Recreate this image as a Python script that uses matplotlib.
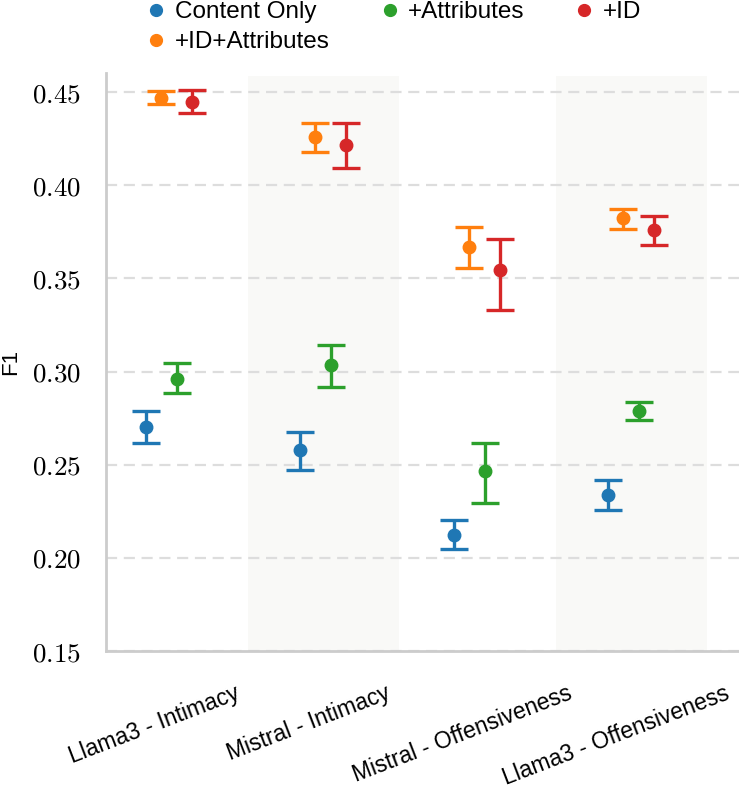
import matplotlib
matplotlib.use("Agg")
import matplotlib.pyplot as plt
import matplotlib.transforms as mtransforms
from matplotlib.lines import Line2D
import numpy as np

# categories and series
categories = ["Llama3 - Intimacy", "Mistral - Intimacy",
              "Mistral - Offensiveness", "Llama3 - Offensiveness"]
series = ["Content Only", "+ID+Attributes", "+Attributes", "+ID"]
colors = ["#1f77b4", "#ff7f0e", "#2ca02c", "#d62728"]

# mean F1 per series (same order as categories)
content_only = [0.2703, 0.2581, 0.2124, 0.2335]
id_attributes = [0.4471, 0.4257, 0.3668, 0.3826]
attributes = [0.2962, 0.3033, 0.2468, 0.2790]
id_only = [0.4446, 0.4216, 0.3543, 0.3760]

# lower / upper ends of the error bars
content_only_lo = [0.2619, 0.2474, 0.2047, 0.2258]
content_only_hi = [0.2790, 0.2674, 0.2204, 0.2419]
id_attributes_lo = [0.4436, 0.4178, 0.3557, 0.3767]
id_attributes_hi = [0.4507, 0.4337, 0.3774, 0.3871]
attributes_lo = [0.2883, 0.2919, 0.2294, 0.2742]
attributes_hi = [0.3048, 0.3144, 0.2617, 0.2835]
id_only_lo = [0.4387, 0.4093, 0.3333, 0.3677]
id_only_hi = [0.4512, 0.4337, 0.3713, 0.3835]

means = [content_only, id_attributes, attributes, id_only]
lows = [content_only_lo, id_attributes_lo, attributes_lo, id_only_lo]
highs = [content_only_hi, id_attributes_hi, attributes_hi, id_only_hi]
yticks = [0.15, 0.20, 0.25, 0.30, 0.35, 0.40, 0.45]

plt.rcParams['mathtext.fontset'] = 'cm'
plt.rcParams['font.family'] = ['Liberation Sans', 'DejaVu Sans']

fig = plt.figure(figsize=(7.39, 7.92), dpi=100)
ax = fig.add_axes([106 / 739, 141 / 792, 633 / 739, 578 / 792])

x = np.arange(len(categories))
offsets = [-0.15, -0.05, 0.05, 0.15]

# light bands behind every second category
for i in x:
    if i % 2 == 1:
        ax.axvspan(i - 0.49, i + 0.49, ymax=0.995, color="#f9f9f7", zorder=0, lw=0)

for name, col, off, m, lo, hi in zip(series, colors, offsets, means, lows, highs):
    m = np.array(m)
    err = [m - np.array(lo), np.array(hi) - m]
    ax.errorbar(x + off, m, yerr=err, fmt="o", color=col, ecolor=col,
                markersize=9, elinewidth=2.4, capsize=10, capthick=2.4,
                label=name, zorder=3)

ax.set_xlim(-0.41, 3.70)
ax.set_ylim(0.15, 0.4603)
ax.set_yticks(yticks)
ax.set_yticklabels([f"${v:.2f}$" for v in yticks], fontsize=19.5)
ax.set_xticks(x)
ax.tick_params(axis="x", length=0, pad=22)
ax.tick_params(axis="y", length=0, pad=18)
ax.set_xticklabels(categories, rotation=21, ha="center", fontsize=16.5)
# labels sit a little left of their ticks in the original
shift = mtransforms.ScaledTranslation(-15 / 100, 0, fig.dpi_scale_trans)
for lab in ax.get_xticklabels():
    lab.set_transform(lab.get_transform() + shift)
ax.set_ylabel("F1", fontsize=16, labelpad=8)

ax.yaxis.grid(True, linestyle=(0, (5, 3)), color="#dddddd", linewidth=1.6, zorder=1)
ax.set_axisbelow(True)
for side in ["top", "right"]:
    ax.spines[side].set_visible(False)
for side in ["left", "bottom"]:
    ax.spines[side].set_color("#cccccc")
    ax.spines[side].set_linewidth(2)

proxy = [Line2D([], [], marker="o", ls="", color=c, markersize=8.5) for c in colors]
fig.legend(proxy, series, loc="upper left", bbox_to_anchor=(120 / 739, 1.026),
           ncol=3, frameon=False, fontsize=17.5, handletextpad=0.15,
           columnspacing=1.87, labelspacing=0.33, handlelength=1.2)

plt.savefig("out.png", dpi=100)
